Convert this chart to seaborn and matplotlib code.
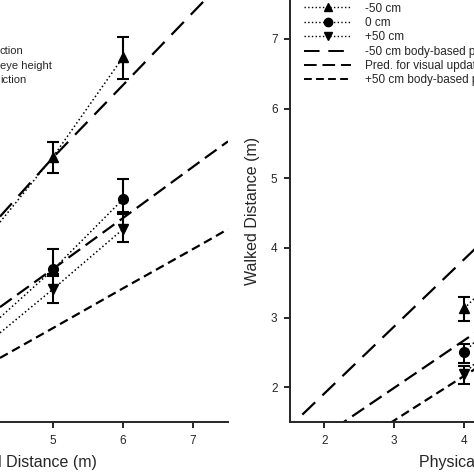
import numpy as np
import pandas as pd
import matplotlib
matplotlib.use('Agg')
import matplotlib.pyplot as plt
from matplotlib.lines import Line2D
import seaborn as sns

sns.set_style('ticks')
plt.rcParams['font.family'] = ['Liberation Sans', 'DejaVu Sans']

# measured points (x = physical distance)
x_left = [5, 6]
tri_left = [5.31, 6.74]
tri_left_err = [[0.23, 0.21], [0.31, 0.29]]
cir_left = [3.69, 4.70]
cir_left_err = [[0.09, 0.30], [0.21, 0.29]]
dtri_left = [3.41, 4.27]
dtri_left_err = [[0.20, 0.21], [0.19, 0.25]]
# dotted connections reaching the left edge of the left panel
edge_x = 4.24
tri_edge, cir_edge, dtri_edge = 4.37, 3.0, 2.78

x_right = [4]
tri_right, tri_right_lo, tri_right_hi = [3.13], [2.95], [3.30]
cir_right, cir_right_lo, cir_right_hi = [2.50], [2.35], [2.62]
dtri_right, dtri_right_lo, dtri_right_hi = [2.19], [2.05], [2.30]

# prediction lines read per panel
pred_left_x = [4.24, 5, 6, 7.17, 7.5]
pred_m50_left = [4.45, 5.30, 6.34, 7.56, 7.9]
pred_vis_left = [3.15, 3.70, 4.43, 5.29, 5.53]
pred_p50_left = [2.42, 2.85, 3.42, 4.08, 4.27]
pred_right_x = [1.4, 4.2]
pred_m50_right = [1.33, 4.03]
pred_vis_right = [0.90, 2.81]
pred_p50_right = [0.50, 2.29]

fig = plt.figure(figsize=(4.74, 4.74), dpi=100)
W = 474
axL = fig.add_axes([0, 52 / W, 228 / W, 422 / W])
axR = fig.add_axes([290 / W, 52 / W, 184 / W, 422 / W])
ylim = (1.5, 7.56)

styles = {'m50': (0, (8, 4.5)), 'vis': (0, (6.5, 3)), 'p50': (0, (4, 2.2))}

def preds(ax, xs, a, b, c):
    d = pd.DataFrame({'x': xs, 'a': a, 'b': b, 'c': c})
    for col, st in zip(['a', 'b', 'c'], ['m50', 'vis', 'p50']):
        sns.lineplot(data=d, x='x', y=col, ax=ax, color='black', lw=1.6,
                     linestyle=styles[st])

preds(axL, pred_left_x, pred_m50_left, pred_vis_left, pred_p50_left)
preds(axR, pred_right_x, pred_m50_right, pred_vis_right, pred_p50_right)

ekw = dict(color='black', capsize=4.5, elinewidth=1.5, capthick=1.5, ls=':', lw=1.1, ms=7)
for ys, e, mk, ed in [(tri_left, tri_left_err, '^', tri_edge),
                      (cir_left, cir_left_err, 'o', cir_edge),
                      (dtri_left, dtri_left_err, 'v', dtri_edge)]:
    err = np.array(e).T
    axL.errorbar(x_left, ys, yerr=err, marker=mk, **ekw)
    axL.plot([edge_x, x_left[0]], [ed, ys[0]], ':', color='black', lw=1.1)

for ys, lo, hi, mk in [(tri_right, tri_right_lo, tri_right_hi, '^'),
                       (cir_right, cir_right_lo, cir_right_hi, 'o'),
                       (dtri_right, dtri_right_lo, dtri_right_hi, 'v')]:
    err = np.array([[ys[0] - lo[0]], [hi[0] - ys[0]]])
    axR.errorbar(x_right, ys, yerr=err, marker=mk, **ekw)
    axR.plot([4, 4.3], [ys[0], ys[0] + 0.3], ':', color='black', lw=1.1)

axL.set_xlim(4.24, 7.5)
axL.set_ylim(*ylim)
axL.set_xticks([5, 6, 7])
axL.set_yticks([])
for s in ['left', 'top', 'right']:
    axL.spines[s].set_visible(False)
axL.spines['bottom'].set_linewidth(1.4)
axL.set_xlabel('')
axL.set_ylabel('')
axL.tick_params(axis='x', labelsize=8.5, length=4, width=1.4, pad=5)

axR.set_xlim(1.51, 4.14)
axR.set_ylim(*ylim)
axR.set_xticks([2, 3, 4])
axR.set_yticks([2, 3, 4, 5, 6, 7])
axR.spines['top'].set_visible(False)
axR.spines['right'].set_visible(False)
for s in ['left', 'bottom']:
    axR.spines[s].set_linewidth(1.4)
axR.tick_params(labelsize=8.5, length=4, width=1.4, pad=5)
axR.set_xlabel('')
axR.set_ylabel('Walked Distance (m)', fontsize=11.5, labelpad=8)

fig.text(97 / W, 1 - 462 / W, 'Physical Distance (m)', ha='right', va='center', fontsize=11.5)
fig.text(419 / W, 1 - 462 / W, 'Physical Distance (m)', ha='left', va='center', fontsize=11.5)

for t, y in [('ction', 51), ('eye height', 66), ('iction', 80)]:
    fig.text(0, 1 - y / W, t, fontsize=8, va='center')

handles = [
    Line2D([], [], color='black', ls=':', marker='^', ms=6, lw=1),
    Line2D([], [], color='black', ls=':', marker='o', ms=6, lw=1),
    Line2D([], [], color='black', ls=':', marker='v', ms=6, lw=1),
    Line2D([], [], color='black', ls=styles['m50'], lw=1.4),
    Line2D([], [], color='black', ls=styles['vis'], lw=1.4),
    Line2D([], [], color='black', ls=styles['p50'], lw=1.4),
]
labels = ['-50 cm', '0 cm', '+50 cm', '-50 cm body-based prediction',
          'Pred. for visual update of eye height', '+50 cm body-based prediction']
axR.legend(handles, labels, loc='upper left', bbox_to_anchor=(0.05, 1.005), frameon=False,
           fontsize=8.5, handlelength=4.0, handletextpad=1.2, labelspacing=0.2, borderaxespad=0)

fig.savefig('out.png', dpi=100)
